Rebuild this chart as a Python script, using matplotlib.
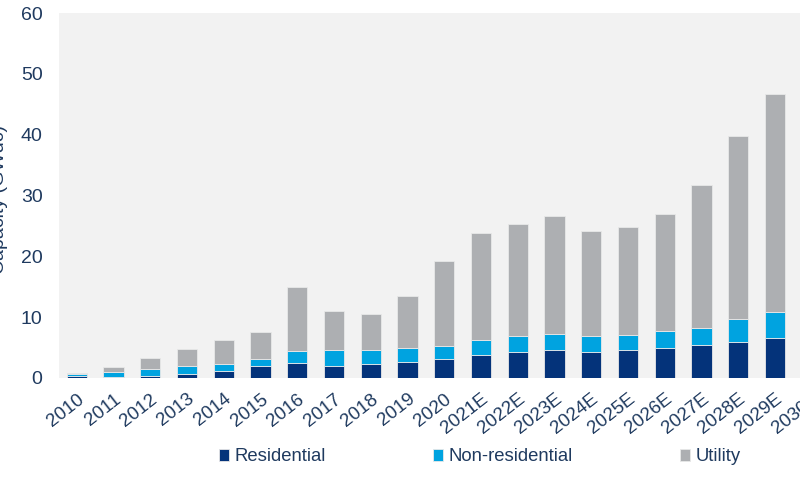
import matplotlib.pyplot as plt
import numpy as np

plt.rcParams['font.family'] = ['Liberation Sans', 'DejaVu Sans']

years = ['2010', '2011', '2012', '2013', '2014', '2015', '2016', '2017', '2018', '2019', '2020',
         '2021E', '2022E', '2023E', '2024E', '2025E', '2026E', '2027E', '2028E', '2029E', '2030E']
residential = [0.25, 0.2, 0.4, 0.7, 1.2, 2.0, 2.5, 2.0, 2.25, 2.7, 3.1,
               3.75, 4.2, 4.6, 4.2, 4.6, 5.0, 5.4, 6.0, 6.6, 7.3]
non_residential = [0.35, 0.8, 1.1, 1.2, 1.1, 1.2, 1.9, 2.6, 2.35, 2.3, 2.1,
                   2.55, 2.7, 2.7, 2.7, 2.5, 2.7, 2.9, 3.75, 4.2, 4.7]
utility = [0.3, 0.8, 1.8, 2.9, 3.95, 4.3, 10.6, 6.4, 6.0, 8.5, 14.0,
           17.5, 18.5, 19.4, 17.3, 17.7, 19.2, 23.4, 30.0, 35.9, 42.0]

txt = '#1f3a5f'
c_res = '#04337a'
c_non = '#00a3e0'
c_util = '#adafb2'

fig = plt.figure(figsize=(8, 4.8), dpi=100)
# axes deliberately run past the right edge, like the cropped original
ax = fig.add_axes([0.074, 0.2125, 0.987, 0.760])
ax.set_facecolor('#f2f2f2')

x = np.arange(len(years))
res = np.array(residential)
non = np.array(non_residential)
utl = np.array(utility)
w = 0.55
ax.bar(x, res, w, color=c_res, edgecolor='#e8e8e8', linewidth=0.6, label='Residential')
ax.bar(x, non, w, bottom=res, color=c_non, edgecolor='#e8e8e8', linewidth=0.6, label='Non-residential')
ax.bar(x, utl, w, bottom=res + non, color=c_util, edgecolor='#e8e8e8', linewidth=0.6, label='Utility')

ax.set_xlim(-0.48, 21.01)
ax.set_ylim(0, 60)
ax.set_yticks(range(0, 61, 10))
ax.set_xticks(x)
ax.set_xticklabels(years, rotation=38, ha='right', va='top', rotation_mode='anchor')
ax.tick_params(axis='both', length=0, colors=txt)
ax.tick_params(axis='y', pad=12, labelsize=14)
ax.tick_params(axis='x', pad=9, labelsize=13.5)
for s in ax.spines.values():
    s.set_visible(False)

fig.text(0.0, 0.585, 'Capacity (GWdc)', rotation=90, ha='center', va='center',
         color=txt, fontsize=14)

leg = fig.legend(loc='center', bbox_to_anchor=(0.6, 0.048), ncol=3, frameon=False,
                 fontsize=13.3, handlelength=0.55, handleheight=0.7, handletextpad=0.3,
                 columnspacing=5.8)
for t in leg.get_texts():
    t.set_color(txt)

fig.savefig('out.png', dpi=100)
